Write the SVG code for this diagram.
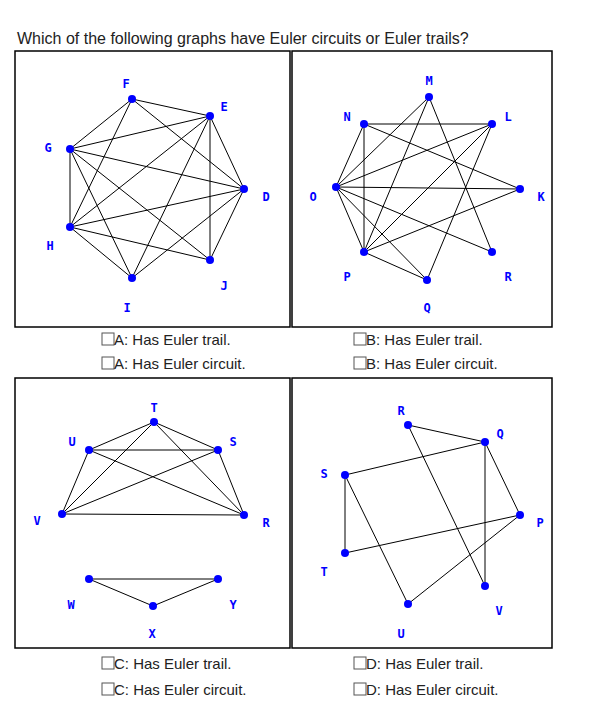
<svg xmlns="http://www.w3.org/2000/svg" width="611" height="717" viewBox="0 0 611 717">
<style>
.fr{fill:#fff;stroke:#000;stroke-width:1.5}
.e line{stroke:#000;stroke-width:1}
.n circle{fill:#0000ff}
.lb{font-family:"DejaVu Sans Mono","Liberation Mono",monospace;font-weight:bold;font-size:12px;fill:#0000ff;text-anchor:middle}
.t{font-family:"Liberation Sans",sans-serif;font-size:15px;fill:#222}
.cb{fill:#fff;stroke:#555;stroke-width:1}
</style>
<rect width="611" height="717" fill="#fff"/>
<text class="t" x="17" y="44" style="font-size:16px">Which of the following graphs have Euler circuits or Euler trails?</text>
<rect class="fr" x="15" y="51" width="275" height="276"/>
<rect class="fr" x="292" y="51" width="260" height="276"/>
<rect class="fr" x="15" y="378" width="275" height="270"/>
<rect class="fr" x="292" y="378" width="260" height="270"/>
<g id="connectors" class="e">
<line x1="132" y1="99" x2="210" y2="116"/><line x1="132" y1="99" x2="70" y2="149"/><line x1="132" y1="99" x2="70" y2="227"/><line x1="132" y1="99" x2="244" y2="189"/>
<line x1="70" y1="149" x2="210" y2="116"/><line x1="70" y1="149" x2="244" y2="189"/><line x1="70" y1="149" x2="70" y2="227"/><line x1="70" y1="149" x2="132" y2="278"/><line x1="70" y1="149" x2="210" y2="260"/>
<line x1="70" y1="227" x2="210" y2="116"/><line x1="70" y1="227" x2="244" y2="189"/><line x1="70" y1="227" x2="210" y2="260"/><line x1="70" y1="227" x2="132" y2="278"/>
<line x1="210" y1="116" x2="132" y2="278"/><line x1="210" y1="116" x2="210" y2="260"/><line x1="210" y1="116" x2="244" y2="189"/>
<line x1="244" y1="189" x2="132" y2="278"/><line x1="244" y1="189" x2="210" y2="260"/>
<line x1="364" y1="124" x2="492" y2="124"/><line x1="364" y1="124" x2="364" y2="252"/><line x1="364" y1="124" x2="336" y2="187"/><line x1="364" y1="124" x2="520" y2="189"/>
<line x1="429" y1="97" x2="336" y2="187"/><line x1="429" y1="97" x2="364" y2="252"/><line x1="429" y1="97" x2="492" y2="252"/>
<line x1="492" y1="124" x2="336" y2="187"/><line x1="492" y1="124" x2="364" y2="252"/><line x1="492" y1="124" x2="427" y2="280"/>
<line x1="336" y1="187" x2="520" y2="189"/><line x1="336" y1="187" x2="492" y2="252"/><line x1="336" y1="187" x2="427" y2="280"/><line x1="336" y1="187" x2="364" y2="252"/>
<line x1="364" y1="252" x2="520" y2="189"/><line x1="364" y1="252" x2="427" y2="280"/>
<line x1="154" y1="422" x2="89" y2="450"/><line x1="154" y1="422" x2="218" y2="450"/><line x1="154" y1="422" x2="62" y2="514"/><line x1="154" y1="422" x2="244" y2="515"/>
<line x1="89" y1="450" x2="218" y2="450"/><line x1="89" y1="450" x2="62" y2="514"/><line x1="89" y1="450" x2="244" y2="515"/>
<line x1="218" y1="450" x2="62" y2="514"/><line x1="218" y1="450" x2="244" y2="515"/><line x1="62" y1="514" x2="244" y2="515"/>
<line x1="89" y1="579" x2="218" y2="579"/><line x1="89" y1="579" x2="153" y2="606"/><line x1="153" y1="606" x2="218" y2="579"/>
<line x1="408" y1="425" x2="485" y2="442"/><line x1="408" y1="425" x2="485" y2="586"/><line x1="485" y1="442" x2="345" y2="475"/><line x1="485" y1="442" x2="485" y2="586"/><line x1="485" y1="442" x2="520" y2="515"/>
<line x1="345" y1="475" x2="345" y2="553"/><line x1="345" y1="475" x2="408" y2="604"/><line x1="345" y1="553" x2="520" y2="515"/><line x1="520" y1="515" x2="408" y2="604"/>
</g>
<g class="n">
<g id="nF"><circle cx="132" cy="99" r="4"/><text class="lb" x="126" y="88">F</text></g>
<g id="nE"><circle cx="210" cy="116" r="4"/><text class="lb" x="224" y="111">E</text></g>
<g id="nG"><circle cx="70" cy="149" r="4"/><text class="lb" x="48" y="152">G</text></g>
<g id="nD"><circle cx="244" cy="189" r="4"/><text class="lb" x="266" y="201">D</text></g>
<g id="nH"><circle cx="70" cy="227" r="4"/><text class="lb" x="50" y="250">H</text></g>
<g id="nJ"><circle cx="210" cy="260" r="4"/><text class="lb" x="224" y="290">J</text></g>
<g id="nI"><circle cx="132" cy="278" r="4"/><text class="lb" x="127" y="312">I</text></g>
<g id="nM"><circle cx="429" cy="97" r="4"/><text class="lb" x="429" y="85">M</text></g>
<g id="nN"><circle cx="364" cy="124" r="4"/><text class="lb" x="347" y="121">N</text></g>
<g id="nL"><circle cx="492" cy="124" r="4"/><text class="lb" x="508" y="121">L</text></g>
<g id="nO"><circle cx="336" cy="187" r="4"/><text class="lb" x="313" y="201">O</text></g>
<g id="nK"><circle cx="520" cy="189" r="4"/><text class="lb" x="541" y="201">K</text></g>
<g id="nP"><circle cx="364" cy="252" r="4"/><text class="lb" x="347" y="281">P</text></g>
<g id="nR"><circle cx="492" cy="252" r="4"/><text class="lb" x="508" y="281">R</text></g>
<g id="nQ"><circle cx="427" cy="280" r="4"/><text class="lb" x="427" y="312">Q</text></g>
<g id="nT"><circle cx="154" cy="422" r="4"/><text class="lb" x="154" y="412">T</text></g>
<g id="nU"><circle cx="89" cy="450" r="4"/><text class="lb" x="72" y="446">U</text></g>
<g id="nS"><circle cx="218" cy="450" r="4"/><text class="lb" x="233" y="446">S</text></g>
<g id="nV"><circle cx="62" cy="514" r="4"/><text class="lb" x="37" y="525">V</text></g>
<g id="nR2"><circle cx="244" cy="515" r="4"/><text class="lb" x="266" y="527">R</text></g>
<g id="nW"><circle cx="89" cy="579" r="4"/><text class="lb" x="71" y="609">W</text></g>
<g id="nY"><circle cx="218" cy="579" r="4"/><text class="lb" x="233" y="609">Y</text></g>
<g id="nX"><circle cx="153" cy="606" r="4"/><text class="lb" x="152" y="638">X</text></g>
<g id="nR3"><circle cx="408" cy="425" r="4"/><text class="lb" x="401" y="415">R</text></g>
<g id="nQ2"><circle cx="485" cy="442" r="4"/><text class="lb" x="500" y="438">Q</text></g>
<g id="nS2"><circle cx="345" cy="475" r="4"/><text class="lb" x="324" y="478">S</text></g>
<g id="nP2"><circle cx="520" cy="515" r="4"/><text class="lb" x="540" y="527">P</text></g>
<g id="nT2"><circle cx="345" cy="553" r="4"/><text class="lb" x="324" y="576">T</text></g>
<g id="nV2"><circle cx="485" cy="586" r="4"/><text class="lb" x="499" y="615">V</text></g>
<g id="nU2"><circle cx="408" cy="604" r="4"/><text class="lb" x="401" y="638">U</text></g>
</g>
<rect class="cb" x="102" y="333" width="12" height="12"/><text class="t" x="114" y="345">A: Has Euler trail.</text>
<rect class="cb" x="102" y="357" width="12" height="12"/><text class="t" x="114" y="369">A: Has Euler circuit.</text>
<rect class="cb" x="354" y="333" width="12" height="12"/><text class="t" x="366" y="345">B: Has Euler trail.</text>
<rect class="cb" x="354" y="357" width="12" height="12"/><text class="t" x="366" y="369">B: Has Euler circuit.</text>
<rect class="cb" x="102" y="657" width="12" height="12"/><text class="t" x="114" y="669">C: Has Euler trail.</text>
<rect class="cb" x="102" y="683" width="12" height="12"/><text class="t" x="114" y="695">C: Has Euler circuit.</text>
<rect class="cb" x="354" y="657" width="12" height="12"/><text class="t" x="366" y="669">D: Has Euler trail.</text>
<rect class="cb" x="354" y="683" width="12" height="12"/><text class="t" x="366" y="695">D: Has Euler circuit.</text>
</svg>
